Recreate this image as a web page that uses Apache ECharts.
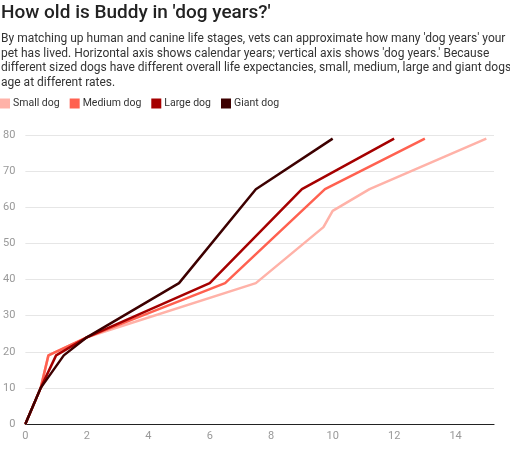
<!DOCTYPE html>
<html lang="en">
<head>
    <meta charset="UTF-8">
    <title>How old is Buddy in 'dog years?'</title>
    <style>
        html, body { margin: 0; padding: 0; background: #fff; }
        #main { width: 510px; height: 450px; }
    </style>
    <script src="https://cdn.jsdelivr.net/npm/echarts@6/dist/echarts.min.js"></script>
</head>
<body>
    <div id="main"></div>
    <script>
        // [calendar years, dog years]
        var smallDog = [[0, 0], [0.5, 10], [0.75, 19], [2, 24], [7.5, 39], [9.7, 54.5], [10, 59], [11.2, 65], [15, 79]];
        var mediumDog = [[0, 0], [0.5, 10], [0.75, 19], [2, 24], [6.5, 39], [9.75, 65], [13, 79]];
        var largeDog = [[0, 0], [0.5, 10], [1, 19], [2, 24], [6, 39], [9, 65], [12, 79]];
        var giantDog = [[0, 0], [0.5, 10], [1.25, 19], [2, 24], [5, 39], [7.5, 65], [10, 79]];

        var seriesNames = ['Small dog', 'Medium dog', 'Large dog', 'Giant dog'];
        var seriesData = [smallDog, mediumDog, largeDog, giantDog];
        var colors = ['#ffb2a8', '#ff6150', '#a50000', '#3d0000'];

        var chart = echarts.init(document.getElementById('main'));

        var series = seriesNames.map(function (name, i) {
            return {
                name: name,
                type: 'line',
                data: seriesData[i],
                showSymbol: false,
                symbol: 'none',
                lineStyle: { width: 2.5, color: colors[i] },
                itemStyle: { color: colors[i] }
            };
        });

        chart.setOption({
            animation: false,
            textStyle: { fontFamily: 'Roboto' },
            title: {
                text: "How old is Buddy in 'dog years?'",
                subtext: "By matching up human and canine life stages, vets can approximate how many 'dog years' your\npet has lived. Horizontal axis shows calendar years; vertical axis shows 'dog years.' Because\ndifferent sized dogs have different overall life expectancies, small, medium, large and giant dogs\nage at different rates.",
                left: 1,
                top: 4,
                padding: 0,
                itemGap: 9,
                textStyle: { fontFamily: 'Roboto', fontSize: 19, fontWeight: 500, color: '#222' },
                subtextStyle: { fontFamily: 'Roboto', fontSize: 12, color: '#333', lineHeight: 14.5 }
            },
            legend: {
                data: seriesNames,
                left: 0,
                top: 98,
                padding: 0,
                icon: 'rect',
                itemWidth: 10,
                itemHeight: 10,
                itemGap: 10,
                textStyle: { fontFamily: 'Roboto', fontSize: 10.5, color: '#333', padding: [0, 0, 0, -2] }
            },
            grid: { left: 23, right: 16, top: 135, bottom: 26 },
            xAxis: {
                type: 'value',
                min: 0,
                max: 15.25,
                interval: 2,
                axisLine: { show: true, lineStyle: { color: '#222', width: 1.2 } },
                axisTick: { show: false },
                splitLine: { show: false },
                axisLabel: { color: '#999', fontSize: 11, margin: 7, showMaxLabel: false }
            },
            yAxis: {
                type: 'value',
                min: 0,
                max: 80,
                interval: 10,
                axisLine: { show: false },
                axisTick: { show: false },
                splitLine: { lineStyle: { color: '#e6e6e6' } },
                axisLabel: { color: '#999', fontSize: 11, margin: 10 }
            },
            series: series
        });
    </script>
</body>
</html>
